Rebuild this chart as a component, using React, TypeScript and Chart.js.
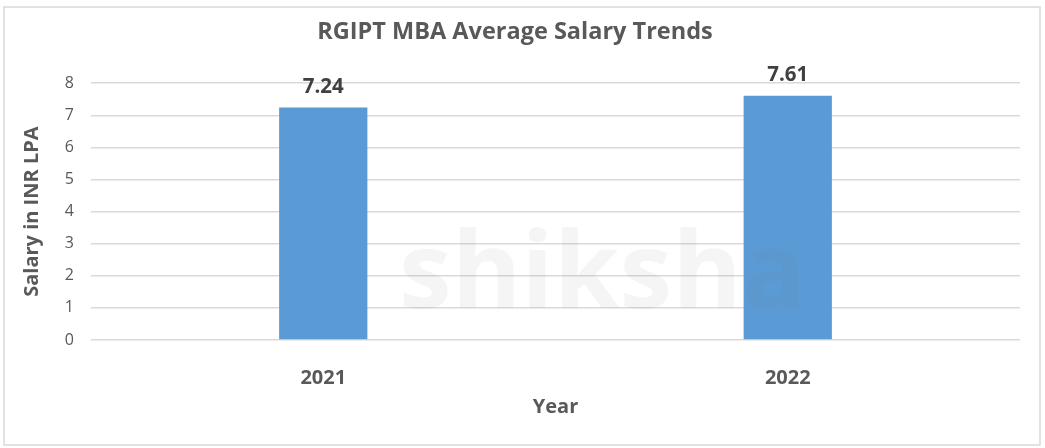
import { useRef, useEffect } from 'react';
import { Chart, registerables } from 'chart.js';
import type { Plugin } from 'chart.js';

Chart.register(...registerables);

const YEARS = ['2021', '2022'];
const AVG_SALARY = [7.24, 7.61];
const Y_TICKS = [0, 1, 2, 3, 4, 5, 6, 7, 8];

const FONT = "'Open Sans', 'Liberation Sans', sans-serif";
const TEXT_GRAY = '#595959';

// outer chart frame like the spreadsheet chart box
const framePlugin: Plugin<'bar'> = {
  id: 'frame',
  beforeDraw(chart) {
    const { ctx, width, height } = chart;
    ctx.save();
    ctx.fillStyle = '#ffffff';
    ctx.fillRect(0, 0, width, height);
    ctx.strokeStyle = '#d9d9d9';
    ctx.lineWidth = 1.5;
    ctx.strokeRect(4, 7, width - 9, height - 10);
    ctx.restore();
  },
};

// faint watermark over the plot
const watermarkPlugin: Plugin<'bar'> = {
  id: 'watermark',
  afterDraw(chart) {
    const { ctx, chartArea } = chart;
    ctx.save();
    ctx.fillStyle = 'rgba(120,120,120,0.07)';
    ctx.font = `bold 106px ${FONT}`;
    ctx.textAlign = 'left';
    ctx.textBaseline = 'alphabetic';
    ctx.fillText('shiksha', chartArea.left + 308, chartArea.bottom - 32);
    ctx.restore();
  },
};

// value labels above each bar
const valueLabels: Plugin<'bar'> = {
  id: 'valueLabels',
  afterDatasetsDraw(chart) {
    const { ctx } = chart;
    const meta = chart.getDatasetMeta(0);
    ctx.save();
    ctx.fillStyle = '#404040';
    ctx.font = `bold 20.5px ${FONT}`;
    ctx.textAlign = 'center';
    ctx.textBaseline = 'bottom';
    meta.data.forEach((bar, i) => {
      const { x, y } = bar.getProps(['x', 'y'], true) as { x: number; y: number };
      ctx.fillText(AVG_SALARY[i].toFixed(2), x, y - 10);
    });
    ctx.restore();
  },
};

export default function App() {
  const canvasRef = useRef<HTMLCanvasElement>(null);
  const chartRef = useRef<Chart<'bar'> | null>(null);

  useEffect(() => {
    document.body.style.margin = '0';
    if (!canvasRef.current) return;
    chartRef.current?.destroy();
    chartRef.current = new Chart(canvasRef.current, {
      type: 'bar',
      data: {
        labels: YEARS,
        datasets: [{
          label: 'Average Salary',
          data: AVG_SALARY,
          backgroundColor: '#5b9bd5',
          borderWidth: 0,
          categoryPercentage: 1,
          barPercentage: 0.19,
        }],
      },
      options: {
        responsive: false,
        animation: false,
        layout: { padding: { left: 10, right: 25, top: 0, bottom: 0 } },
        plugins: {
          legend: { display: false },
          tooltip: { enabled: false },
          title: {
            display: true,
            text: 'RGIPT MBA Average Salary Trends',
            color: TEXT_GRAY,
            font: { family: FONT, size: 23.5, weight: 'bold' },
            padding: { top: 18, bottom: 37 },
          },
        },
        scales: {
          x: {
            grid: { display: false },
            border: { display: false },
            ticks: {
              color: TEXT_GRAY,
              font: { family: FONT, size: 20, weight: 'bold' },
              padding: 18,
            },
            title: {
              display: true,
              text: 'Year',
              color: TEXT_GRAY,
              font: { family: FONT, size: 20, weight: 'bold' },
              padding: { top: 0, bottom: 29 },
            },
            afterFit: (scale) => { scale.height = 108; },
          },
          y: {
            min: 0,
            max: 8,
            afterBuildTicks: (scale) => { scale.ticks = Y_TICKS.map(v => ({ value: v })); },
            grid: { color: '#d9d9d9', lineWidth: 1.5, drawTicks: false },
            border: { display: false },
            ticks: {
              color: TEXT_GRAY,
              font: { family: FONT, size: 16 },
              padding: 17,
            },
            title: {
              display: true,
              text: 'Salary in INR LPA',
              color: TEXT_GRAY,
              font: { family: FONT, size: 20, weight: 'bold' },
              padding: { top: 10, bottom: 0 },
            },
            afterFit: (scale) => { scale.width = 81; },
          },
        },
      },
      plugins: [framePlugin, watermarkPlugin, valueLabels],
    });
    return () => {
      chartRef.current?.destroy();
      chartRef.current = null;
    };
  }, []);

  return (
    <div style={{ width: 1045, height: 448 }}>
      <canvas ref={canvasRef} width={1045} height={448} />
    </div>
  );
}
